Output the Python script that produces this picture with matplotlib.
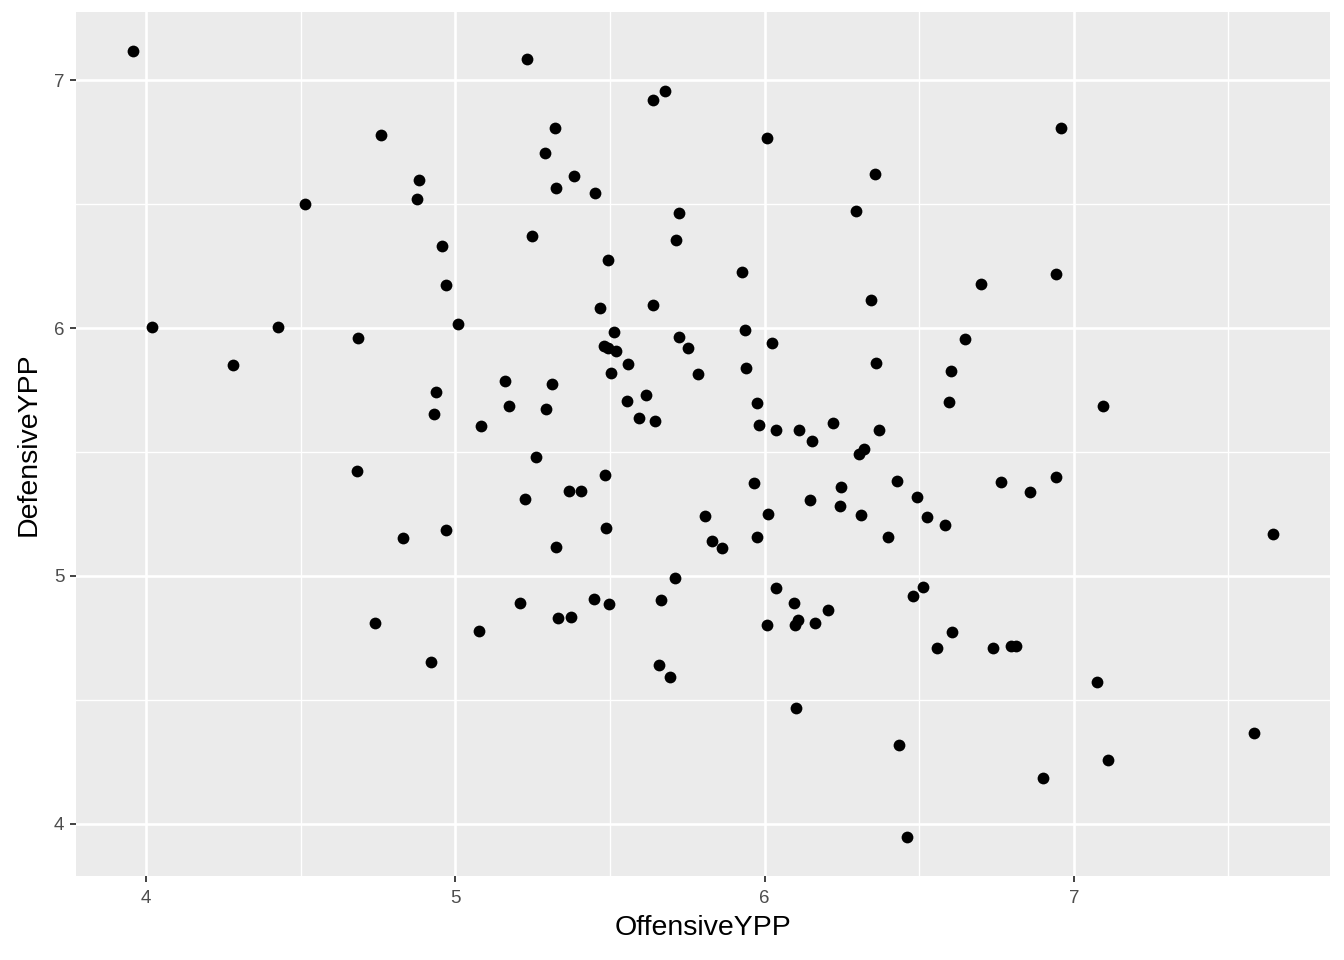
import matplotlib
matplotlib.use('Agg')
import matplotlib.pyplot as plt
from matplotlib.ticker import MultipleLocator

plt.rcParams['font.family'] = ['Liberation Sans', 'DejaVu Sans']

# values (per team)
offensive_ypp = [
    3.958, 4.019, 4.281, 4.427, 4.514, 4.685, 4.682, 4.760, 4.740, 4.831,
    4.883, 4.876, 4.957, 4.970, 4.938, 4.931, 4.970, 4.921, 5.010, 5.083,
    5.077, 5.161, 5.174, 5.232, 5.248, 5.261, 5.225, 5.209, 5.290, 5.322,
    5.326, 5.384, 5.313, 5.293, 5.368, 5.406, 5.326, 5.332, 5.374, 5.678,
    5.639, 5.452, 6.008, 6.357, 5.723, 6.296, 5.714, 5.494, 5.927, 6.344,
    5.468, 5.639, 6.958, 6.700, 6.942, 5.513, 5.481, 5.494, 5.520, 5.723,
    5.752, 5.937, 6.024, 6.360, 5.558, 5.503, 5.785, 5.940, 5.617, 5.555,
    5.594, 5.646, 5.975, 5.982, 6.037, 6.111, 6.153, 6.221, 6.370, 6.321,
    6.305, 5.484, 5.966, 6.428, 6.493, 6.247, 6.147, 6.244, 6.312, 5.807,
    6.011, 5.487, 6.399, 5.830, 5.862, 5.975, 5.710, 6.037, 6.648, 6.603,
    6.596, 7.094, 6.764, 6.858, 6.942, 6.525, 6.583, 7.644, 6.512, 5.449,
    5.497, 5.665, 6.095, 6.205, 6.008, 6.098, 6.108, 6.163, 6.480, 5.659,
    5.694, 6.102, 6.435, 6.460, 6.606, 6.557, 6.738, 6.797, 6.813, 7.075,
    7.582, 7.110, 6.900,
]
defensive_ypp = [
    7.117, 6.005, 5.852, 6.005, 6.499, 5.961, 5.423, 6.778, 4.808, 5.152,
    6.596, 6.519, 6.333, 6.175, 5.742, 5.653, 5.184, 4.651, 6.017, 5.605,
    4.776, 5.787, 5.686, 7.085, 6.373, 5.480, 5.310, 4.889, 6.705, 6.806,
    6.567, 6.612, 5.775, 5.674, 5.342, 5.342, 5.116, 4.829, 4.833, 6.955,
    6.919, 6.543, 6.765, 6.620, 6.466, 6.474, 6.357, 6.276, 6.228, 6.114,
    6.082, 6.094, 6.806, 6.179, 6.220, 5.985, 5.928, 5.920, 5.908, 5.965,
    5.920, 5.993, 5.941, 5.860, 5.856, 5.819, 5.815, 5.839, 5.730, 5.706,
    5.637, 5.625, 5.698, 5.609, 5.589, 5.589, 5.544, 5.617, 5.589, 5.512,
    5.492, 5.407, 5.374, 5.383, 5.318, 5.358, 5.306, 5.281, 5.245, 5.241,
    5.249, 5.192, 5.156, 5.140, 5.112, 5.156, 4.990, 4.950, 5.957, 5.827,
    5.702, 5.686, 5.379, 5.338, 5.399, 5.237, 5.205, 5.168, 4.954, 4.905,
    4.885, 4.901, 4.889, 4.861, 4.800, 4.800, 4.820, 4.808, 4.917, 4.639,
    4.590, 4.465, 4.319, 3.947, 4.772, 4.707, 4.707, 4.715, 4.715, 4.570,
    4.364, 4.258, 4.182,
]
x_ticks = [4, 5, 6, 7]
y_ticks = [4, 5, 6, 7]

fig = plt.figure(figsize=(13.44, 9.6), dpi=100)
ax = fig.add_axes([76 / 1344, 1 - 876 / 960, (1330 - 76) / 1344, (876 - 12) / 960])

# ggplot-like 5% expansion of the data range
def expanded(vals, frac=0.05):
    lo, hi = min(vals), max(vals)
    pad = (hi - lo) * frac
    return lo - pad, hi + pad

ax.set_xlim(*expanded(offensive_ypp))
ax.set_ylim(*expanded(defensive_ypp))

ax.set_facecolor('#EBEBEB')
for s in ax.spines.values():
    s.set_visible(False)

ax.set_xticks(x_ticks)
ax.set_yticks(y_ticks)
ax.set_xticklabels([str(t) for t in x_ticks])
ax.set_yticklabels([str(t) for t in y_ticks])
ax.xaxis.set_minor_locator(MultipleLocator(0.5))
ax.yaxis.set_minor_locator(MultipleLocator(0.5))
ax.grid(which='major', color='white', linewidth=1.9)
ax.grid(which='minor', color='white', linewidth=0.95)
ax.set_axisbelow(True)
ax.tick_params(which='major', length=4.3, width=1.3, color='#333333',
               labelsize=13.5, labelcolor='#4D4D4D', pad=4)
ax.tick_params(axis='x', which='major', pad=5.5)
ax.tick_params(which='minor', length=0)

ax.scatter(offensive_ypp, defensive_ypp, s=72, color='black', linewidths=0, zorder=3)

ax.set_xlabel('OffensiveYPP', fontsize=20.5, color='black', labelpad=6)
ax.set_ylabel('DefensiveYPP', fontsize=20.5, color='black', labelpad=9)

fig.savefig('out.png', dpi=100, facecolor='white')
